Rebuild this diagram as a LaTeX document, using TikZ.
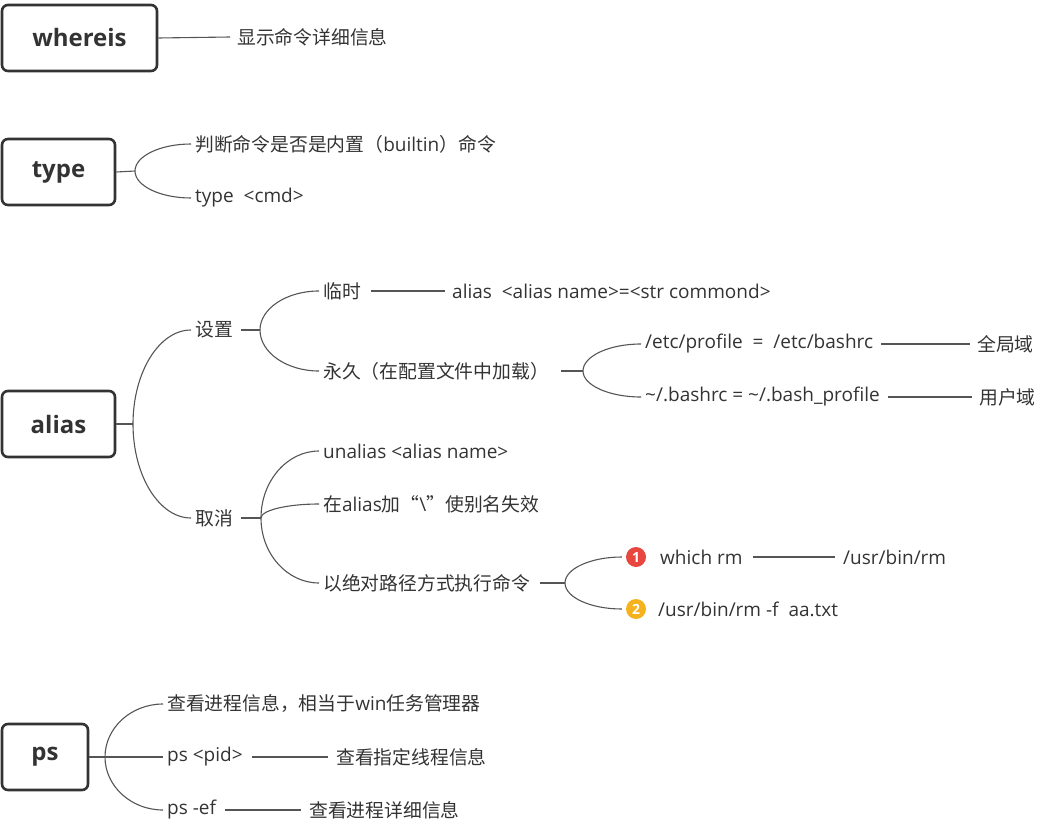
\documentclass[tikz,border=0pt]{standalone}
\usepackage{fontspec}
\usetikzlibrary{calc}
\setmainfont{Open Sans}
\newfontfamily\cjk[Scale=0.99]{Noto Sans CJK SC}
\definecolor{tx}{HTML}{333333}
\definecolor{ln}{HTML}{555555}
\begin{document}
\begin{tikzpicture}[x=1pt,y=-1pt,
  t/.style={anchor=west,inner sep=0pt,text=tx,font=\fontsize{19}{22}\selectfont},
  root/.style={draw=tx,line width=2.6pt,rounded corners=6pt,text=tx,font=\fontsize{24}{27}\selectfont\bfseries,inner sep=0pt,minimum height=66pt},
  cn/.style={draw=ln,line width=1.1pt},
  badge/.style={circle,inner sep=0pt,minimum size=20pt,text=white,font=\fontsize{14}{14}\selectfont\bfseries}]
\useasboundingbox (0,0) rectangle (1057,824);
\newcommand\br[2]{\draw[cn] let \p1=(#1), \p2=([xshift=-4pt]#2.west) in (\p1) .. controls (\x1,{\y1+0.55*(\y2-\y1)}) and ({\x1+0.45*(\x2-\x1)},\y2) .. (\p2);}
% roots
\node[root,minimum width=155pt] (wh) at (79.5,38) {whereis};
\node[root,minimum width=113pt] (ty) at (58.5,172) {type};
\node[root,minimum width=113pt] (al) at (58.5,424) {alias};
\node[root,minimum width=86pt] (ps) at (45,757) {ps};
% whereis
\node[t] (wh1) at (237,37) {\cjk 显示命令详细信息};
\draw[cn] (wh.east) -- ([xshift=-7pt]wh1.west);
% type
\node[t] (ty1) at (195,144) {{\cjk 判断命令是否是内置（}builtin{\cjk ）命令}};
\node[t] (ty2) at (195,198) {type \ <cmd>};
\coordinate (tf) at (135,171);
\draw[cn] (ty.east) -- (tf);
\br{tf}{ty1}\br{tf}{ty2}
% alias
\node[t] (s) at (195,330) {\cjk 设置};
\node[t] (q) at (195,518) {\cjk 取消};
\coordinate (af) at (133,424);
\draw[cn] (al.east) -- (af);
\br{af}{s}\br{af}{q}
\node[t] (s1) at (323,291) {\cjk 临时};
\node[t] (s2) at (323,371) {\cjk 永久（在配置文件中加载）};
\coordinate (sf) at (260,330);
\draw[cn] ([xshift=8pt]s.east) -- (sf);
\br{sf}{s1}\br{sf}{s2}
\node[t] (s11) at (452,291) {alias \ <alias name>=<str commond>};
\draw[cn] ([xshift=10pt]s1.east) -- ([xshift=-7pt]s11.west);
\node[t] (s21) at (645,344) {/etc/profile \ = \ /etc/bashrc};
\node[t] (s22) at (645,397) {\textasciitilde/.bashrc = \textasciitilde/.bash\_profile};
\coordinate (pf) at (583,371);
\draw[cn] ([xshift=12pt]s2.east) -- (pf);
\br{pf}{s21}\br{pf}{s22}
\node[t] (g1) at (977,344) {\cjk 全局域};
\node[t] (g2) at (979,397) {\cjk 用户域};
\draw[cn] ([xshift=8pt]s21.east) -- ([xshift=-7pt]g1.west);
\draw[cn] ([xshift=8pt]s22.east) -- ([xshift=-7pt]g2.west);
\node[t] (q1) at (323,451) {unalias <alias name>};
\node[t] (q2) at (323,504) {{\cjk 在}alias{\cjk 加“}\textbackslash{\cjk ”使别名失效}};
\node[t] (q3) at (323,583) {\cjk 以绝对路径方式执行命令};
\coordinate (qf) at (261,518);
\draw[cn] ([xshift=8pt]q.east) -- (qf);
\br{qf}{q1}\br{qf}{q2}\br{qf}{q3}
\node[badge,fill={rgb,255:red,232;green,71;blue,63}] (b1) at (636,557) {1};
\node[badge,fill={rgb,255:red,245;green,178;blue,30}] (b2) at (636,609) {2};
\coordinate (bf) at (565,583);
\draw[cn] ([xshift=10pt]q3.east) -- (bf);
\br{bf}{b1}\br{bf}{b2}
\node[t] (w1) at (660,557) {which rm};
\node[t] (w2) at (843,557) {/usr/bin/rm};
\node[t] (w3) at (658,609) {/usr/bin/rm -f \ aa.txt};
\draw[cn] ([xshift=10pt]w1.east) -- ([xshift=-8pt]w2.west);
% ps
\node[t] (p1) at (167,704) {{\cjk 查看进程信息，相当于}win{\cjk 任务管理器}};
\node[t] (p2) at (167,757) {ps <pid>};
\node[t] (p3) at (167,810) {ps -ef};
\coordinate (psf) at (105,757);
\draw[cn] (ps.east) -- (psf);
\br{psf}{p1}\br{psf}{p2}\br{psf}{p3}
\node[t] (p21) at (336,757) {\cjk 查看指定线程信息};
\node[t] (p31) at (309,810) {\cjk 查看进程详细信息};
\draw[cn] ([xshift=9pt]p2.east) -- ([xshift=-8pt]p21.west);
\draw[cn] ([xshift=9pt]p3.east) -- ([xshift=-8pt]p31.west);
\end{tikzpicture}
\end{document}
